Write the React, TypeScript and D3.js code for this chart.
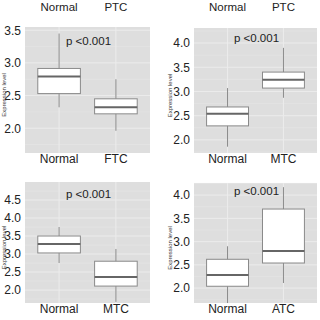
import React, { useEffect, useRef } from 'react';
import * as d3 from 'd3';

// box stats: [lower whisker, Q1, median, Q3, upper whisker]
const groupsFTC = ['Normal', 'FTC'];
const statsFTC = [[2.32, 2.53, 2.79, 2.915, 3.45], [1.96, 2.22, 2.32, 2.45, 2.75]];
const ticksFTC = [2.0, 2.5, 3.0, 3.5];

const groupsMTC1 = ['Normal', 'MTC'];
const statsMTC1 = [[1.86, 2.29, 2.54, 2.68, 3.07], [2.87, 3.07, 3.24, 3.40, 3.90]];
const ticksMTC1 = [2.0, 2.5, 3.0, 3.5, 4.0];

const groupsMTC2 = ['Normal', 'MTC'];
const statsMTC2 = [[2.75, 3.03, 3.28, 3.5, 3.75], [1.67, 2.11, 2.36, 2.80, 3.14]];
const ticksMTC2 = [2.0, 2.5, 3.0, 3.5, 4.0, 4.5];

const groupsATC = ['Normal', 'ATC'];
const statsATC = [[1.68, 2.04, 2.28, 2.62, 2.90], [2.11, 2.54, 2.80, 3.70, 4.17]];
const ticksATC = [2.0, 2.5, 3.0, 3.5, 4.0];

// x labels of the row above, cut by the crop
const cutLabels = ['Normal', 'PTC'];
const pLabel = 'p <0.001';
const yTitle = 'Expression level';

const FONT = '"Liberation Sans", Arial, sans-serif';

const App = () => {
  const ref = useRef(null);

  useEffect(() => {
    const svg = d3.select(ref.current);
    svg.selectAll('*').remove();

    const panels = [
      { groups: groupsFTC, stats: statsFTC, ticks: ticksFTC, x0: 25, x1: 150, y0: 27, y1: 153, dom: [1.62, 3.55], py: 45, ty: 5 },
      { groups: groupsMTC1, stats: statsMTC1, ticks: ticksMTC1, x0: 194, x1: 317, y0: 28, y1: 153, dom: [1.73, 4.31], py: 42, ty: 171 },
      { groups: groupsMTC2, stats: statsMTC2, ticks: ticksMTC2, x0: 25, x1: 150, y0: 182, y1: 303, dom: [1.64, 5.0], py: 198, ty: 5 },
      { groups: groupsATC, stats: statsATC, ticks: ticksATC, x0: 194, x1: 317, y0: 183, y1: 303, dom: [1.68, 4.26], py: 195, ty: 171 },
    ];

    [[25, 150], [194, 317]].forEach(([a, b]) => {
      const band = d3.scaleLinear().domain([0.4, 2.6]).range([a, b]);
      svg.selectAll(null).data(cutLabels).join('text')
        .attr('x', (d, i) => band(i + 1))
        .attr('y', 11)
        .attr('text-anchor', 'middle')
        .style('font-family', FONT)
        .style('font-size', '11.5px')
        .style('fill', '#222')
        .text(d => d);
    });

    panels.forEach(p => {
      const g = svg.append('g');
      const y = d3.scaleLinear().domain(p.dom).range([p.y1, p.y0]);
      const x = d3.scaleLinear().domain([0.4, 2.6]).range([p.x0, p.x1]);
      const unit = x(1) - x(0);

      g.append('rect')
        .attr('x', p.x0).attr('y', p.y0)
        .attr('width', p.x1 - p.x0).attr('height', p.y1 - p.y0)
        .attr('fill', '#dedede');

      // minor grid
      const minors = p.ticks.map(t => t - 0.25).concat([p.ticks[p.ticks.length - 1] + 0.25])
        .filter(v => v > p.dom[0] && v < p.dom[1]);
      g.selectAll('.minor').data(minors).join('line')
        .attr('x1', p.x0).attr('x2', p.x1)
        .attr('y1', d => y(d)).attr('y2', d => y(d))
        .attr('stroke', '#e6e6e6').attr('stroke-width', 0.6);

      // major grid
      g.selectAll('.major').data(p.ticks).join('line')
        .attr('x1', p.x0).attr('x2', p.x1)
        .attr('y1', d => y(d)).attr('y2', d => y(d))
        .attr('stroke', '#ececec').attr('stroke-width', 1);
      g.selectAll('.vmajor').data(p.groups).join('line')
        .attr('x1', (d, i) => x(i + 1)).attr('x2', (d, i) => x(i + 1))
        .attr('y1', p.y0).attr('y2', p.y1)
        .attr('stroke', '#ececec').attr('stroke-width', 1);

      // boxes
      p.stats.forEach((s, i) => {
        const cx = x(i + 1);
        const hw = unit * 0.75 / 2;
        g.append('line')
          .attr('x1', cx).attr('x2', cx)
          .attr('y1', y(s[0])).attr('y2', y(s[4]))
          .attr('stroke', '#8a8a8a').attr('stroke-width', 1);
        g.append('rect')
          .attr('x', cx - hw).attr('y', y(s[3]))
          .attr('width', hw * 2).attr('height', y(s[1]) - y(s[3]))
          .attr('fill', '#fff')
          .attr('stroke', '#8a8a8a').attr('stroke-width', 1);
        g.append('line')
          .attr('x1', cx - hw).attr('x2', cx + hw)
          .attr('y1', y(s[2])).attr('y2', y(s[2]))
          .attr('stroke', '#666').attr('stroke-width', 2);
      });

      // y tick labels
      g.selectAll('.yt').data(p.ticks).join('text')
        .attr('x', p.x0 - 4)
        .attr('y', d => y(d))
        .attr('dy', '0.36em')
        .attr('text-anchor', 'end')
        .style('font-family', FONT)
        .style('font-size', '12px')
        .style('fill', '#222')
        .text(d => d.toFixed(1));

      // x labels
      g.selectAll('.xt').data(p.groups).join('text')
        .attr('x', (d, i) => x(i + 1))
        .attr('y', p.y1 + 10)
        .attr('text-anchor', 'middle')
        .style('font-family', FONT)
        .style('font-size', '12px')
        .style('fill', '#222')
        .text(d => d);

      // y title
      g.append('text')
        .attr('transform', `translate(${p.ty + 1},${(p.y0 + p.y1) / 2 + 5}) rotate(-90)`)
        .attr('text-anchor', 'middle')
        .style('font-family', FONT)
        .style('font-size', '6px')
        .style('fill', '#333')
        .text(yTitle);

      // p value
      g.append('text')
        .attr('x', (p.x0 + p.x1) / 2 + 1)
        .attr('y', p.py)
        .attr('text-anchor', 'middle')
        .style('font-family', FONT)
        .style('font-size', '11.5px')
        .style('fill', '#222')
        .text(pLabel);
    });
  }, []);

  return (
    <svg ref={ref} width={320} height={320}
      style={{ position: 'absolute', left: 0, top: 0, background: '#fff' }} />
  );
};

export default App;
